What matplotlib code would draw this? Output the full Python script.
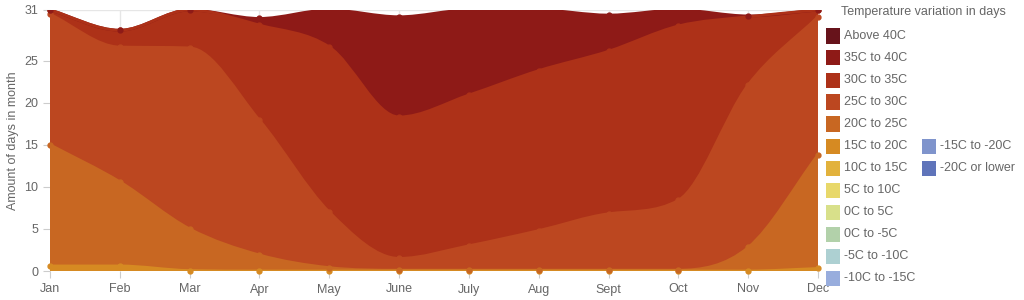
import numpy as np
import matplotlib
matplotlib.use("Agg")
import matplotlib.pyplot as plt
from matplotlib.path import Path
from matplotlib.patches import PathPatch, Rectangle

plt.rcParams['font.family'] = ['Liberation Sans', 'DejaVu Sans']

months = ["Jan", "Feb", "Mar", "Apr", "May", "June", "July", "Aug", "Sept", "Oct", "Nov", "Dec"]

# stacked series, bottom -> top (days per month in each temperature band)
labels = ["-20C or lower", "-15C to -20C", "-10C to -15C", "-5C to -10C", "0C to -5C",
          "0C to 5C", "5C to 10C", "10C to 15C", "15C to 20C", "20C to 25C",
          "25C to 30C", "30C to 35C", "35C to 40C", "Above 40C"]
colors = ["#5f74ba", "#7f94cc", "#98addd", "#add0d2", "#b2d1aa",
          "#d8e08a", "#e8d86a", "#e2b23c", "#d68a22", "#c86722",
          "#bc4720", "#ad3118", "#8e1a17", "#67131b"]

zero = [0] * 12
t15_20 = [0.6, 0.6, 0.05, 0, 0, 0, 0, 0, 0, 0, 0, 0.3]
t20_25 = [14.4, 10.0, 4.95, 1.9, 0.4, 0.1, 0.1, 0.1, 0.1, 0.1, 2.8, 13.5]
t25_30 = [15.5, 16.0, 21.5, 16.0, 6.6, 1.4, 2.9, 4.7, 6.7, 8.3, 19.3, 16.4]
t30_35 = [0.5, 2.0, 4.5, 11.3, 19.6, 16.8, 17.9, 19.0, 19.3, 20.7, 8.1, 0.8]
t35_40 = [0, 0, 0, 0.8, 4.4, 11.9, 10.1, 7.2, 4.3, 1.9, 0.1, 0]
above40 = zero

series = [zero, zero, zero, zero, zero, zero, zero, zero,
          t15_20, t20_25, t25_30, t30_35, t35_40, above40]

YMAX = 31
x = np.arange(len(months))
cum = np.cumsum(np.array(series, dtype=float), axis=0)


def monotone_path(xs, ys, close=False):
    # monotone cubic (Fritsch-Carlson) drawn as bezier segments
    xs = np.asarray(xs, float)
    ys = np.asarray(ys, float)
    n = len(xs)
    h = np.diff(xs)
    d = np.diff(ys) / h
    m = np.zeros(n)
    m[0], m[-1] = d[0], d[-1]
    for i in range(1, n - 1):
        m[i] = 0 if d[i - 1] * d[i] <= 0 else (d[i - 1] + d[i]) / 2
    for i in range(n - 1):
        if d[i] == 0:
            m[i] = m[i + 1] = 0
            continue
        a, b = m[i] / d[i], m[i + 1] / d[i]
        s = a * a + b * b
        if s > 9:
            t = 3 / np.sqrt(s)
            m[i], m[i + 1] = t * a * d[i], t * b * d[i]
    verts = [(xs[0], ys[0])]
    codes = [Path.MOVETO]
    for i in range(n - 1):
        dx = h[i] / 3
        verts += [(xs[i] + dx, ys[i] + m[i] * dx),
                  (xs[i + 1] - dx, ys[i + 1] - m[i + 1] * dx),
                  (xs[i + 1], ys[i + 1])]
        codes += [Path.CURVE4] * 3
    if close:
        verts += [(xs[-1], 0), (xs[0], 0), (xs[0], ys[0])]
        codes += [Path.LINETO, Path.LINETO, Path.CLOSEPOLY]
    return Path(verts, codes)


fig = plt.figure(figsize=(10.24, 3.0), dpi=100)
ax = fig.add_axes([50 / 1024, 29 / 300, 768 / 1024, 261 / 300])

# grid
for xi in x:
    ax.axvline(xi, color="#e6e6e6", lw=1, zorder=0)
for yt in [0, 5, 10, 15, 20, 25, 31]:
    ax.axhline(yt, color="#e6e6e6", lw=1, zorder=0)

# top layer first, lower ones painted over it
for k in range(len(series) - 1, -1, -1):
    if sum(series[k]) == 0:
        continue
    ys = cum[k]
    ax.add_patch(PathPatch(monotone_path(x, ys, close=True), facecolor=colors[k],
                           edgecolor="none", zorder=2))
    ax.add_patch(PathPatch(monotone_path(x, ys), facecolor="none",
                           edgecolor=colors[k], lw=2, zorder=3))

# points may spill over the left/right edge but not over the top
pt_clip = Rectangle((-0.3, -3), 11.6, YMAX + 3, transform=ax.transData)
for k in range(len(series)):
    if sum(series[k]) == 0:
        continue
    pts, = ax.plot(x, cum[k], "o", ms=3.5, color=colors[k], zorder=4)
    pts.set_clip_path(pt_clip)

ax.set_xlim(0, 11)
ax.set_ylim(0, YMAX)
ax.set_xticks(x)
ax.set_xticklabels(months)
ax.set_yticks([0, 5, 10, 15, 20, 25, 31])
for s in ax.spines.values():
    s.set_visible(False)
ax.tick_params(axis="both", colors="#cccccc", labelcolor="#666666", labelsize=9, length=5)
ax.tick_params(axis="x", pad=4)
ax.set_ylabel("Amount of days in month", color="#666666", fontsize=9, labelpad=4)

# legend drawn by hand: two columns like the original
fig.text(841 / 1024, 1 - 12 / 300, "Temperature variation in days", fontsize=9,
         color="#666666", va="center", ha="left")
legend_order = labels[::-1]
legend_cols = colors[::-1]
for i, (lab, col) in enumerate(zip(legend_order, legend_cols)):
    if i < 12:
        sx, row = 826, i
    else:
        sx, row = 922, i - 7
    cy = 36 + row * 22
    fig.patches.append(Rectangle((sx / 1024, 1 - (cy + 7.5) / 300), 14 / 1024, 15 / 300,
                                 transform=fig.transFigure, facecolor=col, edgecolor="none"))
    fig.text((sx + 18) / 1024, 1 - cy / 300, lab, fontsize=9, color="#666666",
             va="center", ha="left")

fig.savefig("out.png", dpi=100)
